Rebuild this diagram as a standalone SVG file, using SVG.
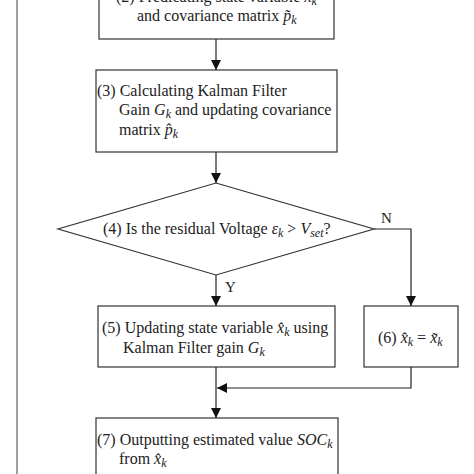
<svg xmlns="http://www.w3.org/2000/svg" width="474" height="474" viewBox="0 0 474 474">
<defs>
<style>
.box{fill:#fff;stroke:#333;stroke-width:1.2}
.ln{fill:none;stroke:#222;stroke-width:1.2}
text{font-family:"Liberation Serif","Times New Roman",serif;font-size:16px;fill:#222}
.i{font-style:italic}
.s{font-size:12px;font-style:italic}
</style>
<marker id="ah" viewBox="0 0 10 10" refX="10" refY="5" markerWidth="10" markerHeight="10" markerUnits="userSpaceOnUse" orient="auto">
<path d="M0,0 L10,5 L0,10 Z" fill="#111"/>
</marker>
</defs>
<rect width="474" height="474" fill="#fff"/>
<line x1="17" y1="0" x2="17" y2="474" stroke="#888" stroke-width="1.6"/>

<g id="n2">
<rect class="box" x="99" y="-30" width="235" height="69"/>
<text x="116" y="2">(2) Predicating state variable <tspan class="i">x̃</tspan><tspan class="s" dy="3">k</tspan></text>
<text x="137" y="21">and covariance matrix <tspan class="i">p̃</tspan><tspan class="s" dy="3">k</tspan></text>
</g>

<g id="n3">
<rect class="box" x="96" y="70" width="241" height="82"/>
<text x="97" y="96">(3) Calculating Kalman Filter</text>
<text x="119" y="115">Gain <tspan class="i">G</tspan><tspan class="s" dy="3">k</tspan><tspan dy="-3"> and updating covariance</tspan></text>
<text x="119" y="135">matrix <tspan class="i">p̂</tspan><tspan class="s" dy="3">k</tspan></text>
</g>

<g id="n4">
<polygon class="box" points="216,183 374,229 216,275 58,229"/>
<text x="103" y="234">(4) Is the residual Voltage <tspan class="i">ε</tspan><tspan class="s" dy="3">k</tspan><tspan dy="-3"> &gt; </tspan><tspan class="i">V</tspan><tspan class="s" dy="3">set</tspan><tspan dy="-3">?</tspan></text>
</g>

<g id="n5">
<rect class="box" x="98" y="306" width="237" height="61"/>
<text x="102" y="333">(5) Updating state variable <tspan class="i">x̂</tspan><tspan class="s" dy="3">k</tspan><tspan dy="-3"> using</tspan></text>
<text x="123" y="353">Kalman Filter gain <tspan class="i">G</tspan><tspan class="s" dy="3">k</tspan></text>
</g>

<g id="n6">
<rect class="box" x="364" y="306" width="94" height="61"/>
<text x="378" y="343">(6) <tspan class="i">x̂</tspan><tspan class="s" dy="3">k</tspan><tspan dy="-3"> = </tspan><tspan class="i">x̃</tspan><tspan class="s" dy="3">k</tspan></text>
</g>

<g id="n7">
<rect class="box" x="96" y="418" width="242" height="80"/>
<text x="97" y="445">(7) Outputting estimated value <tspan class="i">SOC</tspan><tspan class="s" dy="3">k</tspan></text>
<text x="119" y="464">from <tspan class="i">x̂</tspan><tspan class="s" dy="3">k</tspan></text>
</g>

<g id="connectors">
<line class="ln" x1="216" y1="39" x2="216" y2="70" marker-end="url(#ah)"/>
<line class="ln" x1="216" y1="152" x2="216" y2="183" marker-end="url(#ah)"/>
<line class="ln" x1="216" y1="275" x2="216" y2="306" marker-end="url(#ah)"/>
<polyline class="ln" points="374,229 411,229 411,306" marker-end="url(#ah)"/>
<line class="ln" x1="216" y1="367" x2="216" y2="418" marker-end="url(#ah)"/>
<polyline class="ln" points="411,367 411,388 217,388" marker-end="url(#ah)"/>
<text x="381" y="223" style="font-size:15px">N</text>
<text x="225" y="292" style="font-size:15px">Y</text>
</g>
</svg>
